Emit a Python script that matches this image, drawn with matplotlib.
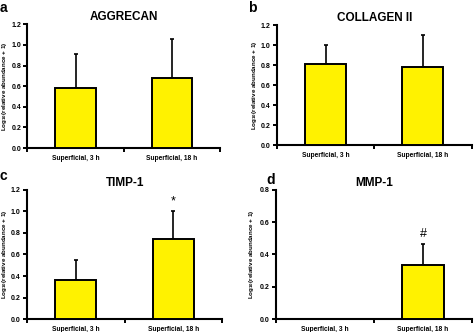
import matplotlib
matplotlib.use('Agg')
import numpy as np
import matplotlib.pyplot as plt

plt.rcParams['font.family'] = ['Liberation Sans', 'DejaVu Sans']
plt.rcParams['font.weight'] = 'bold'
plt.rcParams['mathtext.fontset'] = 'custom'
plt.rcParams['mathtext.rm'] = 'Liberation Sans:bold'
plt.rcParams['mathtext.default'] = 'rm'

groups = ['Superficial, 3 h', 'Superficial, 18 h']

aggrecan = [0.58, 0.675]
aggrecan_err = [0.33, 0.385]
collagen = [0.81, 0.78]
collagen_err = [0.19, 0.32]
timp = [0.367, 0.743]
timp_err = [0.183, 0.257]
mmp = [0.0, 0.336]
mmp_err = [np.nan, 0.13]

panels = [
    ('a', 'AGGRECAN', aggrecan, aggrecan_err, 1.2, None, [0.058, 0.554, 0.406, 0.373]),
    ('b', 'COLLAGEN II', collagen, collagen_err, 1.2, None, [0.584, 0.563, 0.411, 0.361]),
    ('c', 'TIMP-1', timp, timp_err, 1.2, '*', [0.057, 0.039, 0.412, 0.389]),
    ('d', 'MMP-1', mmp, mmp_err, 0.8, '#', [0.582, 0.039, 0.414, 0.389]),
]
letter_pos = {'a': (0.0, 0.998), 'b': (0.524, 0.998), 'c': (0.0, 0.49), 'd': (0.563, 0.48)}
ylab_x = {'a': 0.010, 'b': 0.536, 'c': 0.010, 'd': 0.530}

fig = plt.figure(figsize=(4.74, 3.32), dpi=100)

for letter, title, vals, errs, ymax, mark, rect in panels:
    ax = fig.add_axes(rect)
    x = np.arange(len(groups))
    ax.bar(x, vals, width=0.42, color='#fff200', edgecolor='black', linewidth=1.4, zorder=3)
    lower = np.zeros(len(vals))
    ax.errorbar(x, vals, yerr=[lower, errs], fmt='none', ecolor='black',
                elinewidth=1.2, capsize=1.2, capthick=1.2, zorder=2)
    if mark:
        ax.text(1, vals[1] + errs[1] + ymax * 0.03, mark, ha='center', va='bottom',
                fontsize=9, fontweight='normal')
    ax.set_xlim(-0.5, 1.5)
    ax.set_ylim(0, ymax)
    ax.set_yticks(np.arange(0, ymax + 0.01, 0.2))
    ax.set_yticklabels(['%.1f' % v for v in np.arange(0, ymax + 0.01, 0.2)])
    ax.set_xticks(x)
    ax.set_xticklabels(groups)
    ax.set_xticks([-0.5, 0.5, 1.5], minor=True)
    ax.tick_params(axis='x', which='major', length=0, pad=5, labelsize=4.8)
    ax.tick_params(axis='x', which='minor', length=3, width=1.4, direction='out')
    ax.tick_params(axis='y', length=3, width=1.4, direction='out', pad=1.5, labelsize=5)
    for side in ['top', 'right']:
        ax.spines[side].set_visible(False)
    for side in ['left', 'bottom']:
        ax.spines[side].set_linewidth(1.5)
    ax.set_title(title, fontsize=8.5, fontweight='bold', pad=3)
    fig.text(ylab_x[letter], rect[1] + rect[3] / 2, r'Log$_{10}$(relative abundance + 1)',
             rotation=90, ha='center', va='center', fontsize=4.5)
    lx, ly = letter_pos[letter]
    fig.text(lx, ly, letter, ha='left', va='top', fontsize=10, fontweight='bold')

fig.savefig('out.png', dpi=100)
